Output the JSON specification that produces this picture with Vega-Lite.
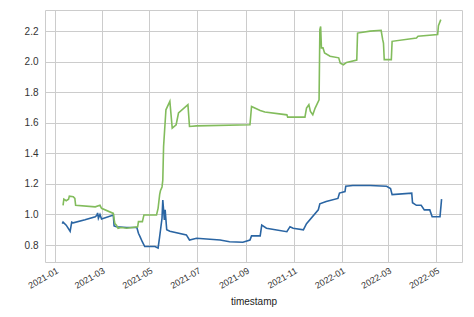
{
  "$schema": "https://vega.github.io/schema/vega-lite/v6.json",
  "autosize": {"type": "none"},
  "padding": {"left": 45, "top": 10, "right": 12, "bottom": 55},
  "width": 417,
  "height": 252,
  "background": "white",
  "config": {
    "view": {"stroke": "#cccccc", "strokeWidth": 1},
    "font": "Liberation Sans"
  },
  "datasets": {
    "rows": [
      {"timestamp": "2021-01-10", "series": "b", "value": 0.94},
      {"timestamp": "2021-01-11", "series": "b", "value": 0.95},
      {"timestamp": "2021-01-15", "series": "b", "value": 0.93},
      {"timestamp": "2021-01-20", "series": "b", "value": 0.89},
      {"timestamp": "2021-01-22", "series": "b", "value": 0.95},
      {"timestamp": "2021-01-24", "series": "b", "value": 0.945},
      {"timestamp": "2021-02-08", "series": "b", "value": 0.965},
      {"timestamp": "2021-02-21", "series": "b", "value": 0.985},
      {"timestamp": "2021-02-23", "series": "b", "value": 0.995},
      {"timestamp": "2021-02-24", "series": "b", "value": 1.01},
      {"timestamp": "2021-02-25", "series": "b", "value": 0.975},
      {"timestamp": "2021-02-27", "series": "b", "value": 1.0},
      {"timestamp": "2021-03-01", "series": "b", "value": 0.97},
      {"timestamp": "2021-03-16", "series": "b", "value": 0.996},
      {"timestamp": "2021-03-17", "series": "b", "value": 0.925},
      {"timestamp": "2021-03-20", "series": "b", "value": 0.92},
      {"timestamp": "2021-04-02", "series": "b", "value": 0.915},
      {"timestamp": "2021-04-15", "series": "b", "value": 0.915},
      {"timestamp": "2021-04-17", "series": "b", "value": 0.877},
      {"timestamp": "2021-04-19", "series": "b", "value": 0.855},
      {"timestamp": "2021-04-22", "series": "b", "value": 0.82},
      {"timestamp": "2021-04-25", "series": "b", "value": 0.79},
      {"timestamp": "2021-05-08", "series": "b", "value": 0.79},
      {"timestamp": "2021-05-12", "series": "b", "value": 0.78},
      {"timestamp": "2021-05-14", "series": "b", "value": 0.855},
      {"timestamp": "2021-05-17", "series": "b", "value": 0.975},
      {"timestamp": "2021-05-18", "series": "b", "value": 1.095},
      {"timestamp": "2021-05-20", "series": "b", "value": 0.965},
      {"timestamp": "2021-05-21", "series": "b", "value": 1.03},
      {"timestamp": "2021-05-23", "series": "b", "value": 0.9},
      {"timestamp": "2021-05-27", "series": "b", "value": 0.89},
      {"timestamp": "2021-06-17", "series": "b", "value": 0.866},
      {"timestamp": "2021-06-21", "series": "b", "value": 0.833},
      {"timestamp": "2021-06-30", "series": "b", "value": 0.844},
      {"timestamp": "2021-07-30", "series": "b", "value": 0.833},
      {"timestamp": "2021-08-11", "series": "b", "value": 0.822},
      {"timestamp": "2021-08-28", "series": "b", "value": 0.818},
      {"timestamp": "2021-09-06", "series": "b", "value": 0.833},
      {"timestamp": "2021-09-08", "series": "b", "value": 0.86},
      {"timestamp": "2021-09-19", "series": "b", "value": 0.86},
      {"timestamp": "2021-09-21", "series": "b", "value": 0.93},
      {"timestamp": "2021-09-27", "series": "b", "value": 0.91},
      {"timestamp": "2021-10-23", "series": "b", "value": 0.887},
      {"timestamp": "2021-10-27", "series": "b", "value": 0.92},
      {"timestamp": "2021-10-31", "series": "b", "value": 0.91},
      {"timestamp": "2021-11-13", "series": "b", "value": 0.9},
      {"timestamp": "2021-11-17", "series": "b", "value": 0.94},
      {"timestamp": "2021-12-02", "series": "b", "value": 1.03},
      {"timestamp": "2021-12-04", "series": "b", "value": 1.07},
      {"timestamp": "2021-12-12", "series": "b", "value": 1.085},
      {"timestamp": "2021-12-27", "series": "b", "value": 1.105},
      {"timestamp": "2021-12-29", "series": "b", "value": 1.14},
      {"timestamp": "2022-01-05", "series": "b", "value": 1.15},
      {"timestamp": "2022-01-06", "series": "b", "value": 1.185},
      {"timestamp": "2022-01-15", "series": "b", "value": 1.19},
      {"timestamp": "2022-02-06", "series": "b", "value": 1.19},
      {"timestamp": "2022-02-27", "series": "b", "value": 1.185},
      {"timestamp": "2022-03-04", "series": "b", "value": 1.17},
      {"timestamp": "2022-03-06", "series": "b", "value": 1.13},
      {"timestamp": "2022-03-31", "series": "b", "value": 1.14},
      {"timestamp": "2022-04-01", "series": "b", "value": 1.077},
      {"timestamp": "2022-04-06", "series": "b", "value": 1.06},
      {"timestamp": "2022-04-12", "series": "b", "value": 1.06},
      {"timestamp": "2022-04-16", "series": "b", "value": 1.03},
      {"timestamp": "2022-04-23", "series": "b", "value": 1.03},
      {"timestamp": "2022-04-26", "series": "b", "value": 0.985},
      {"timestamp": "2022-05-06", "series": "b", "value": 0.985},
      {"timestamp": "2022-05-08", "series": "b", "value": 1.1},
      {"timestamp": "2021-01-11", "series": "g", "value": 1.06},
      {"timestamp": "2021-01-12", "series": "g", "value": 1.1},
      {"timestamp": "2021-01-15", "series": "g", "value": 1.09},
      {"timestamp": "2021-01-18", "series": "g", "value": 1.1},
      {"timestamp": "2021-01-19", "series": "g", "value": 1.12},
      {"timestamp": "2021-01-24", "series": "g", "value": 1.116},
      {"timestamp": "2021-01-26", "series": "g", "value": 1.105},
      {"timestamp": "2021-01-27", "series": "g", "value": 1.06},
      {"timestamp": "2021-02-21", "series": "g", "value": 1.05},
      {"timestamp": "2021-02-27", "series": "g", "value": 1.06},
      {"timestamp": "2021-03-01", "series": "g", "value": 1.04},
      {"timestamp": "2021-03-16", "series": "g", "value": 1.007},
      {"timestamp": "2021-03-17", "series": "g", "value": 0.97},
      {"timestamp": "2021-03-18", "series": "g", "value": 0.94},
      {"timestamp": "2021-03-20", "series": "g", "value": 0.93},
      {"timestamp": "2021-03-22", "series": "g", "value": 0.91},
      {"timestamp": "2021-03-26", "series": "g", "value": 0.915},
      {"timestamp": "2021-04-02", "series": "g", "value": 0.91},
      {"timestamp": "2021-04-16", "series": "g", "value": 0.92},
      {"timestamp": "2021-04-17", "series": "g", "value": 0.953},
      {"timestamp": "2021-04-22", "series": "g", "value": 0.953},
      {"timestamp": "2021-04-24", "series": "g", "value": 0.997},
      {"timestamp": "2021-05-10", "series": "g", "value": 0.997},
      {"timestamp": "2021-05-12", "series": "g", "value": 1.04},
      {"timestamp": "2021-05-14", "series": "g", "value": 1.13},
      {"timestamp": "2021-05-15", "series": "g", "value": 1.155},
      {"timestamp": "2021-05-17", "series": "g", "value": 1.18},
      {"timestamp": "2021-05-18", "series": "g", "value": 1.225},
      {"timestamp": "2021-05-19", "series": "g", "value": 1.445},
      {"timestamp": "2021-05-22", "series": "g", "value": 1.685},
      {"timestamp": "2021-05-27", "series": "g", "value": 1.74},
      {"timestamp": "2021-05-30", "series": "g", "value": 1.565},
      {"timestamp": "2021-06-04", "series": "g", "value": 1.587},
      {"timestamp": "2021-06-07", "series": "g", "value": 1.664},
      {"timestamp": "2021-06-19", "series": "g", "value": 1.718},
      {"timestamp": "2021-06-21", "series": "g", "value": 1.576},
      {"timestamp": "2021-06-30", "series": "g", "value": 1.58},
      {"timestamp": "2021-09-06", "series": "g", "value": 1.587},
      {"timestamp": "2021-09-08", "series": "g", "value": 1.707},
      {"timestamp": "2021-09-19", "series": "g", "value": 1.68},
      {"timestamp": "2021-09-25", "series": "g", "value": 1.67},
      {"timestamp": "2021-10-23", "series": "g", "value": 1.652},
      {"timestamp": "2021-10-24", "series": "g", "value": 1.637},
      {"timestamp": "2021-11-15", "series": "g", "value": 1.637},
      {"timestamp": "2021-11-17", "series": "g", "value": 1.696},
      {"timestamp": "2021-11-20", "series": "g", "value": 1.718},
      {"timestamp": "2021-11-22", "series": "g", "value": 1.674},
      {"timestamp": "2021-11-25", "series": "g", "value": 1.652},
      {"timestamp": "2021-11-28", "series": "g", "value": 1.696},
      {"timestamp": "2021-12-03", "series": "g", "value": 1.75},
      {"timestamp": "2021-12-04", "series": "g", "value": 2.21},
      {"timestamp": "2021-12-05", "series": "g", "value": 2.23},
      {"timestamp": "2021-12-06", "series": "g", "value": 2.09},
      {"timestamp": "2021-12-08", "series": "g", "value": 2.09},
      {"timestamp": "2021-12-10", "series": "g", "value": 2.057},
      {"timestamp": "2021-12-17", "series": "g", "value": 2.035},
      {"timestamp": "2021-12-28", "series": "g", "value": 2.025},
      {"timestamp": "2021-12-30", "series": "g", "value": 1.99},
      {"timestamp": "2022-01-03", "series": "g", "value": 1.98},
      {"timestamp": "2022-01-07", "series": "g", "value": 1.995},
      {"timestamp": "2022-01-20", "series": "g", "value": 2.01},
      {"timestamp": "2022-01-21", "series": "g", "value": 2.187},
      {"timestamp": "2022-02-06", "series": "g", "value": 2.2},
      {"timestamp": "2022-02-20", "series": "g", "value": 2.205},
      {"timestamp": "2022-02-22", "series": "g", "value": 2.144},
      {"timestamp": "2022-02-23", "series": "g", "value": 2.122},
      {"timestamp": "2022-02-24", "series": "g", "value": 2.013},
      {"timestamp": "2022-03-05", "series": "g", "value": 2.013},
      {"timestamp": "2022-03-06", "series": "g", "value": 2.133},
      {"timestamp": "2022-04-06", "series": "g", "value": 2.155},
      {"timestamp": "2022-04-08", "series": "g", "value": 2.166},
      {"timestamp": "2022-05-03", "series": "g", "value": 2.177},
      {"timestamp": "2022-05-04", "series": "g", "value": 2.236},
      {"timestamp": "2022-05-07", "series": "g", "value": 2.275}
    ]
  },
  "data": {"name": "rows"},
  "mark": {"type": "line", "strokeWidth": 1.6, "clip": true},
  "encoding": {
    "x": {
      "field": "timestamp",
      "type": "temporal",
      "scale": {
        "type": "utc",
        "domain": [
          {"year": 2020, "month": 12, "date": 19, "utc": true},
          {"year": 2022, "month": 6, "date": 3, "utc": true}
        ],
        "nice": false
      },
      "axis": {
        "title": "timestamp",
        "titleFont": "Liberation Sans",
        "titleFontWeight": "normal",
        "titleFontSize": 10,
        "titleColor": "#222222",
        "titlePadding": 6,
        "labelExpr": "utcFormat(datum.value, '%Y-%m')",
        "tickCount": {"interval": "month", "step": 2},
        "labelAngle": -30,
        "labelAlign": "right",
        "labelBaseline": "top",
        "labelFontSize": 9,
        "labelColor": "#333333",
        "labelPadding": 4,
        "labelOverlap": false,
        "domain": false,
        "ticks": false,
        "grid": true,
        "gridColor": "#cccccc",
        "gridWidth": 1
      }
    },
    "y": {
      "field": "value",
      "type": "quantitative",
      "scale": {"domain": [0.689, 2.338], "nice": false, "zero": false},
      "axis": {
        "title": null,
        "values": [0.8, 1.0, 1.2, 1.4, 1.6, 1.8, 2.0, 2.2],
        "format": ".1f",
        "labelFontSize": 10,
        "labelColor": "#333333",
        "labelPadding": 7,
        "domain": false,
        "ticks": false,
        "grid": true,
        "gridColor": "#cccccc",
        "gridWidth": 1
      }
    },
    "color": {
      "field": "series",
      "type": "nominal",
      "scale": {"domain": ["b", "g"], "range": ["#2a65a3", "#82bc5c"]},
      "legend": null
    }
  }
}
